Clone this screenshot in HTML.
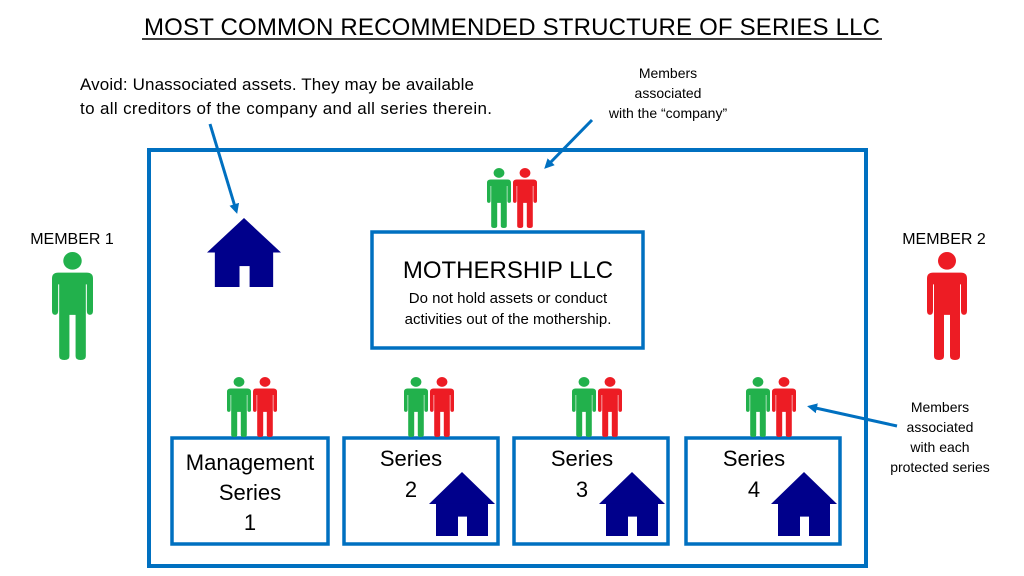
<!DOCTYPE html>
<html><head><meta charset="utf-8"><style>
html,body{margin:0;padding:0;background:#fff;}
svg{display:block;font-family:"Liberation Sans",sans-serif;}
</style></head><body>
<svg width="1024" height="576" viewBox="0 0 1024 576" xmlns="http://www.w3.org/2000/svg">
<defs>
<symbol id="p" viewBox="0 0 40 110" preserveAspectRatio="none">
<circle cx="20" cy="9" r="9"/>
<path d="M6,21 H34 Q40,21 40,27 V60 Q40,64 37,64 Q34,64 34,60 V33 H33 V106 Q33,110 28,110 Q23,110 23,106 V64 H17 V106 Q17,110 12,110 Q7,110 7,106 V33 H6 V60 Q6,64 3,64 Q0,64 0,60 V27 Q0,21 6,21 Z"/>
</symbol>
<symbol id="h" viewBox="0 0 66 66" preserveAspectRatio="none">
<polygon points="0,33 33,0 66,33" fill="#00008B"/>
<rect x="7" y="32" width="52" height="34" fill="#00008B"/>
<rect x="29" y="46" width="9" height="20" fill="#fff"/>
</symbol>
<marker id="a" markerWidth="10" markerHeight="10" refX="6" refY="5" orient="auto" markerUnits="userSpaceOnUse"><polygon points="0,0 10,5 0,10" fill="#0070C0"/></marker>
</defs>
<text x="512" y="35" text-anchor="middle" font-size="24" textLength="736" fill="#000">MOST COMMON RECOMMENDED STRUCTURE OF SERIES LLC</text>
<line x1="142" y1="39" x2="882" y2="39" stroke="#000" stroke-width="1.5"/>
<text x="80" y="90" font-size="17" textLength="394">Avoid: Unassociated assets. They may be available</text>
<text x="80" y="114" font-size="17" textLength="412">to all creditors of the company and all series therein.</text>
<g font-size="14" text-anchor="middle"><text x="668" y="78">Members</text><text x="668" y="98">associated</text><text x="668" y="118">with the “company”</text></g>
<g font-size="14" text-anchor="middle"><text x="940" y="412">Members</text><text x="940" y="432">associated</text><text x="940" y="452">with each</text><text x="940" y="472">protected series</text></g>
<text x="72" y="244" font-size="16" text-anchor="middle">MEMBER 1</text>
<text x="944" y="244" font-size="16" text-anchor="middle">MEMBER 2</text>
<use href="#p" x="52" y="252" width="41" height="108" fill="#22B14C"/>
<use href="#p" x="927" y="252" width="40" height="108" fill="#ED1C24"/>
<rect x="149" y="150" width="717" height="416" fill="none" stroke="#0070C0" stroke-width="4"/>
<rect x="372" y="232" width="271" height="116" fill="none" stroke="#0070C0" stroke-width="3.5"/>
<text x="508" y="278" font-size="24" text-anchor="middle">MOTHERSHIP LLC</text>
<text x="508" y="303" font-size="15" text-anchor="middle">Do not hold assets or conduct</text>
<text x="508" y="324" font-size="15" text-anchor="middle">activities out of the mothership.</text>
<use href="#h" x="207" y="218" width="74" height="69"/>
<g fill="none" stroke="#0070C0" stroke-width="3.5">
<rect x="172" y="438" width="156" height="106"/>
<rect x="344" y="438" width="154" height="106"/>
<rect x="514" y="438" width="154" height="106"/>
<rect x="686" y="438" width="154" height="106"/>
</g>
<g font-size="22" text-anchor="middle">
<text x="250" y="470">Management</text><text x="250" y="500">Series</text><text x="250" y="530">1</text>
<text x="411" y="466">Series</text><text x="411" y="497">2</text>
<text x="582" y="466">Series</text><text x="582" y="497">3</text>
<text x="754" y="466">Series</text><text x="754" y="497">4</text>
</g>
<use href="#h" x="429" y="472" width="66" height="64"/>
<use href="#h" x="599" y="472" width="66" height="64"/>
<use href="#h" x="771" y="472" width="66" height="64"/>
<use href="#p" x="487" y="168" width="24" height="60" fill="#22B14C"/>
<use href="#p" x="513" y="168" width="24" height="60" fill="#ED1C24"/>
<use href="#p" x="227" y="377" width="24" height="60" fill="#22B14C"/>
<use href="#p" x="253" y="377" width="24" height="60" fill="#ED1C24"/>
<use href="#p" x="404" y="377" width="24" height="60" fill="#22B14C"/>
<use href="#p" x="430" y="377" width="24" height="60" fill="#ED1C24"/>
<use href="#p" x="572" y="377" width="24" height="60" fill="#22B14C"/>
<use href="#p" x="598" y="377" width="24" height="60" fill="#ED1C24"/>
<use href="#p" x="746" y="377" width="24" height="60" fill="#22B14C"/>
<use href="#p" x="772" y="377" width="24" height="60" fill="#ED1C24"/>
<g stroke="#0070C0" stroke-width="3" marker-end="url(#a)">
<line x1="210" y1="124" x2="236" y2="210"/>
<line x1="592" y1="120" x2="547" y2="166"/>
<line x1="897" y1="426" x2="811" y2="407"/>
</g>
</svg>
</body></html>
